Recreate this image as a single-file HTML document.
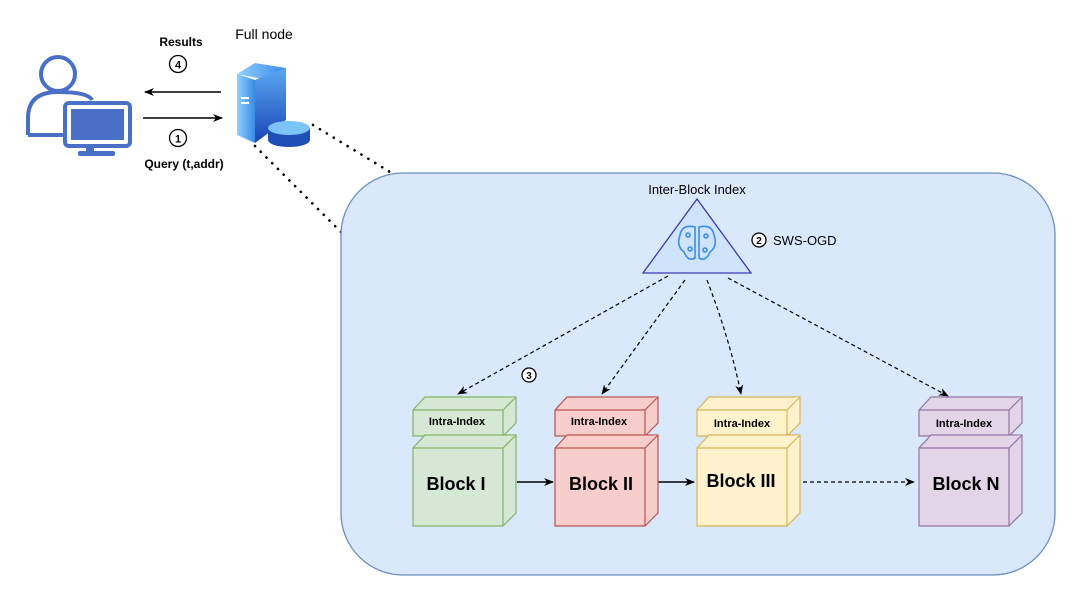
<!DOCTYPE html>
<html><head><meta charset="utf-8"><style>
html,body{margin:0;padding:0;background:#fff;}
svg{display:block;}
text{font-family:"Comic Sans MS","Liberation Sans",sans-serif;}
</style></head><body>
<svg width="1080" height="590" viewBox="0 0 1080 590" xmlns="http://www.w3.org/2000/svg">
<defs>
<marker id="ah" markerWidth="10" markerHeight="10" refX="9" refY="5" orient="auto" markerUnits="userSpaceOnUse"><path d="M0,1 L10,5 L0,9 L3,5 Z" fill="#000"/></marker>
<linearGradient id="srv" x1="0" y1="0" x2="0" y2="1"><stop offset="0" stop-color="#5aa8f0"/><stop offset="1" stop-color="#1a45b8"/></linearGradient>
<linearGradient id="srv2" x1="0" y1="0" x2="1" y2="0"><stop offset="0" stop-color="#8fd0ff"/><stop offset="1" stop-color="#3a8ae8"/></linearGradient>
</defs>
<line x1="313" y1="125" x2="390" y2="172" stroke="#000" stroke-width="2.6" stroke-dasharray="0.1,8" stroke-linecap="round"/>
<line x1="255" y1="146" x2="341" y2="232" stroke="#000" stroke-width="2.6" stroke-dasharray="0.1,8" stroke-linecap="round"/>
<rect x="341" y="173" width="714" height="402" rx="62" fill="#dae8fc" stroke="#6c8ebf" stroke-width="1.3"/>
<g fill="none" stroke="#4a6fc7" stroke-width="4">
<circle cx="58" cy="74" r="17"/>
<path d="M28,135 V118 Q28,92 58,92 Q88,92 92,100"/>
<path d="M28,135 H64"/>
</g>
<rect x="65" y="103" width="65" height="43" rx="4" fill="#fff" stroke="#4a6fc7" stroke-width="4"/>
<rect x="71" y="109" width="53" height="31" fill="#4a6fc7"/>
<rect x="86" y="146" width="8" height="6" fill="#4a6fc7"/>
<rect x="78" y="151" width="37" height="5" rx="2" fill="#4a6fc7"/>
<line x1="221" y1="92" x2="145" y2="92" stroke="#000" stroke-width="1.5" marker-end="url(#ah)"/>
<line x1="143" y1="118" x2="222" y2="118" stroke="#000" stroke-width="1.5" marker-end="url(#ah)"/>
<text x="181" y="46" font-size="12" font-weight="bold" text-anchor="middle">Results</text>
<circle cx="178" cy="64" r="8.5" fill="#fff" stroke="#000" stroke-width="1.3"/>
<text x="178" y="68.5" font-size="11" font-weight="bold" text-anchor="middle">4</text>
<circle cx="178" cy="138" r="8.5" fill="#fff" stroke="#000" stroke-width="1.3"/>
<text x="178" y="142.5" font-size="11" font-weight="bold" text-anchor="middle">1</text>
<text x="184" y="168" font-size="12" font-weight="bold" text-anchor="middle">Query (t,addr)</text>
<text x="264" y="39" font-size="14" text-anchor="middle">Full node</text>
<polygon points="237,74 255,63 286,68 268,80" fill="url(#srv2)"/>
<polygon points="237,74 255,80 255,143 237,135" fill="url(#srv2)"/>
<polygon points="255,80 286,68 286,120 255,143" fill="url(#srv)"/>
<rect x="241" y="97" width="8" height="2" fill="#fff"/><rect x="241" y="102" width="8" height="2" fill="#fff"/>
<path d="M268,128 V140 A21,7 0 0 0 310,140 V128" fill="#1f50b8"/>
<ellipse cx="289" cy="128" rx="21" ry="7" fill="#7cc3f7"/>
<text x="697" y="194" font-size="13" text-anchor="middle">Inter-Block Index</text>
<polygon points="697,199 643,273 751,273" fill="#cfe3fa" stroke="#3a3ab0" stroke-width="1.3"/>
<g fill="none" stroke="#3a8ee8" stroke-width="1.6">
<path d="M695,227 Q682,224 680,235 Q676,246 684,252 Q688,262 695,258 Z"/>
<path d="M699,227 Q712,224 714,235 Q718,246 710,252 Q706,262 699,258 Z"/>
<circle cx="688" cy="235" r="2"/><circle cx="706" cy="236" r="2"/><circle cx="690" cy="249" r="2"/><circle cx="705" cy="250" r="2"/>
</g>
<circle cx="759" cy="240" r="7" fill="#fff" stroke="#000" stroke-width="1.3"/>
<text x="759" y="244" font-size="10" font-weight="bold" text-anchor="middle">2</text>
<text x="773" y="245" font-size="13">SWS-OGD</text>
<g stroke="#000" stroke-width="1.2" stroke-dasharray="4,3" fill="none">
<path d="M668,276 L458,394" marker-end="url(#ah)"/>
<path d="M685,280 L602,394" marker-end="url(#ah)"/>
<path d="M707,280 Q730,340 741,394" marker-end="url(#ah)"/>
<path d="M728,278 L948,396" marker-end="url(#ah)"/>
<path d="M803,482 L914,482" marker-end="url(#ah)"/>
</g>
<circle cx="529" cy="375" r="7" fill="#fff" stroke="#000" stroke-width="1.3"/>
<text x="529" y="379" font-size="10" font-weight="bold" text-anchor="middle">3</text>
<line x1="517" y1="482" x2="553" y2="482" stroke="#000" stroke-width="1.5" marker-end="url(#ah)"/>
<line x1="658" y1="482" x2="694" y2="482" stroke="#000" stroke-width="1.5" marker-end="url(#ah)"/>
<g font-weight="bold">
<g fill="#d5e8d4" stroke="#82b366" stroke-width="1.2">
<path d="M413,410 L425,397 H516 V423 L503,436 H413 Z"/><path d="M413,410 H503 L516,397 M503,410 V436"/>
<path d="M413,448 L425,435 H516 V513 L503,526 H413 Z"/><path d="M413,448 H503 L516,435 M503,448 V526"/>
</g>
<g fill="#f8cecc" stroke="#b85450" stroke-width="1.2">
<path d="M555,410 L567,397 H658 V423 L645,436 H555 Z"/><path d="M555,410 H645 L658,397 M645,410 V436"/>
<path d="M555,448 L567,435 H658 V513 L645,526 H555 Z"/><path d="M555,448 H645 L658,435 M645,448 V526"/>
</g>
<g fill="#fff2cc" stroke="#d6b656" stroke-width="1.2">
<path d="M697,410 L709,397 H800 V423 L787,436 H697 Z"/><path d="M697,410 H787 L800,397 M787,410 V436"/>
<path d="M697,448 L709,435 H800 V513 L787,526 H697 Z"/><path d="M697,448 H787 L800,435 M787,448 V526"/>
</g>
<g fill="#e1d5e7" stroke="#9673a6" stroke-width="1.2">
<path d="M919,410 L931,397 H1022 V423 L1009,436 H919 Z"/><path d="M919,410 H1009 L1022,397 M1009,410 V436"/>
<path d="M919,448 L931,435 H1022 V513 L1009,526 H919 Z"/><path d="M919,448 H1009 L1022,435 M1009,448 V526"/>
</g>
<g font-size="11" text-anchor="middle">
<text x="457" y="425">Intra-Index</text><text x="599" y="425">Intra-Index</text><text x="742" y="427">Intra-Index</text><text x="964" y="427">Intra-Index</text>
</g>
<g font-size="18" text-anchor="middle">
<text x="456" y="490">Block I</text><text x="601" y="490">Block II</text><text x="741" y="487">Block III</text><text x="966" y="490">Block N</text>
</g>
</g>
</svg>
</body></html>
